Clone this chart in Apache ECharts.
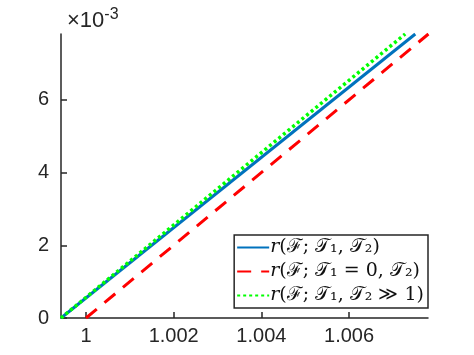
<!DOCTYPE html>
<html><head><meta charset="utf-8">
<script src="https://cdn.jsdelivr.net/npm/echarts@6/dist/echarts.min.js"></script>
<style>html,body{margin:0;padding:0;background:#fff}#c{width:474px;height:355px}</style>
</head><body><div id="c"></div>
<script>
const seriesNames = ['r(ℱ; 𝒯₁, 𝒯₂)', 'r(ℱ; 𝒯₁ = 0, 𝒯₂)', 'r(ℱ; 𝒯₁, 𝒯₂ ≫ 1)'];
const blueLine = [[0.99943, 0], [1.00751, 7.81]];
const redLine = [[1.0000, 0], [1.00781, 7.81]];
const greenLine = [[0.99943, 0], [1.00728, 7.81]];
const xTicks = [1, 1.002, 1.004, 1.006];
const yTicks = [0, 2, 4, 6];
const xRange = [0.99943, 1.0078];
const yRange = [0, 7.81];

const chart = echarts.init(document.getElementById('c'));
const font = 'Liberation Sans, Arial, sans-serif';
const serif = 'DejaVu Serif, Liberation Serif, serif';
chart.setOption({
  animation: false,
  backgroundColor: '#fff',
  grid: {left: 61, right: 46, top: 34, bottom: 37},
  title: {
    text: '×10{s|-3}', left: 62, top: 2,
    textStyle: {fontFamily: font, fontSize: 22, fontWeight: 'normal', color: '#262626',
      rich: {s: {fontFamily: font, fontSize: 16, verticalAlign: 'top', padding: [0,0,12,0], color: '#262626'}}}
  },
  xAxis: {
    type: 'value', min: xRange[0], max: xRange[1],
    axisLine: {show: true, onZero: false, lineStyle: {color: '#262626', width: 1.5}},
    axisTick: {show: true, inside: true, length: 6, customValues: xTicks, lineStyle: {color: '#262626', width: 1.5}},
    axisLabel: {customValues: xTicks, fontFamily: font, fontSize: 20, color: '#262626', margin: 8,
      formatter: v => String(+v.toFixed(3))},
    splitLine: {show: false}
  },
  yAxis: {
    type: 'value', min: yRange[0], max: yRange[1],
    axisLine: {show: true, lineStyle: {color: '#262626', width: 1.5}},
    axisTick: {show: true, inside: true, length: 6, customValues: yTicks, lineStyle: {color: '#262626', width: 1.5}},
    axisLabel: {customValues: yTicks, fontFamily: font, fontSize: 20, color: '#262626', margin: 12},
    splitLine: {show: false}
  },
  legend: {
    orient: 'vertical', right: 46, bottom: 47,
    backgroundColor: '#fff', borderColor: '#262626', borderWidth: 1.5, borderRadius: 0,
    padding: [3, 4, 3, 2], itemGap: 5, itemWidth: 32, itemHeight: 22,
    itemStyle: {opacity: 0},
    formatter: n => '{i|r}' + n.slice(1),
    textStyle: {fontFamily: serif, fontSize: 19, color: '#111', padding: [0,0,0,-4],
      rich: {i: {fontFamily: serif, fontStyle: 'italic', fontSize: 19, color: '#111'}}},
    data: seriesNames
  },
  series: [
    {name: seriesNames[0], type: 'line', data: blueLine, showSymbol: false, symbol: 'none',
      lineStyle: {color: '#0072BD', width: 3}, itemStyle: {color: '#0072BD'}, z: 3},
    {name: seriesNames[1], type: 'line', data: redLine, showSymbol: false, symbol: 'none',
      lineStyle: {color: '#FF0000', width: 3, type: [14, 10]}, itemStyle: {color: '#FF0000'}, z: 2},
    {name: seriesNames[2], type: 'line', data: greenLine, showSymbol: false, symbol: 'none',
      lineStyle: {color: '#00FF00', width: 3.5, type: [3, 3]}, itemStyle: {color: '#00FF00'}, z: 4}
  ]
});
</script></body></html>
